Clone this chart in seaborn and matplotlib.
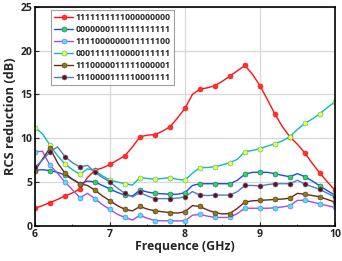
import numpy as np
import pandas as pd
import seaborn as sns
import matplotlib.pyplot as plt
from matplotlib.ticker import MultipleLocator

# frequency grid (GHz), markers on every second point
freq = np.round(np.arange(6.0, 10.01, 0.1), 1)

codes = ['1111111111000000000', '0000000111111111111', '1111000000011111100',
         '0001111110000111111', '1110000011111000001', '1110000111110001111']

s1 = [2.0, 2.3, 2.65, 3.0, 3.4, 3.75, 4.2, 5.5, 6.35, 6.6, 7.0, 7.5, 8.0, 9.0, 10.15, 10.35,
      10.4, 10.8, 11.3, 12.3, 13.4, 15.0, 15.6, 15.75, 16.0, 16.5, 17.1, 17.7, 18.3, 17.3,
      16.0, 14.4, 12.75, 11.3, 10.15, 9.3, 8.3, 7.1, 6.0, 5.0, 4.07]
s2 = [6.35, 6.4, 6.3, 6.1, 5.8, 5.3, 4.8, 5.1, 5.0, 4.6, 4.2, 3.8, 3.5, 3.4, 4.07, 3.85,
      3.7, 3.65, 3.6, 3.6, 3.77, 4.6, 4.8, 4.8, 4.8, 4.8, 4.8, 5.2, 5.9, 6.1,
      6.1, 6.1, 5.95, 5.75, 5.6, 5.95, 5.6, 5.1, 4.55, 4.0, 3.5]
s3 = [8.45, 8.5, 6.9, 6.0, 5.0, 4.1, 3.2, 3.7, 3.1, 2.4, 1.86, 1.3, 0.95, 0.65, 1.2, 0.85,
      0.6, 0.57, 0.57, 0.55, 0.57, 1.2, 1.3, 1.1, 0.95, 0.95, 0.95, 1.4, 2.0, 2.0,
      2.0, 2.0, 2.05, 2.15, 2.3, 2.9, 2.9, 2.7, 2.5, 2.3, 2.1]
s4 = [11.2, 10.5, 9.2, 8.0, 7.04, 6.4, 5.86, 6.5, 6.3, 5.7, 5.2, 5.0, 4.8, 4.65, 5.5, 5.4,
      5.3, 5.4, 5.5, 5.3, 5.2, 6.0, 6.65, 6.65, 6.75, 6.95, 7.2, 7.6, 8.45, 8.6,
      8.8, 9.1, 9.36, 9.7, 10.15, 11.0, 11.7, 12.2, 12.8, 13.5, 14.15]
s5 = [6.3, 7.6, 8.9, 7.2, 6.0, 5.3, 4.8, 4.6, 4.07, 3.4, 2.85, 2.3, 1.86, 1.7, 2.2, 1.9,
      1.7, 1.6, 1.5, 1.45, 1.6, 2.3, 2.2, 1.8, 1.5, 1.35, 1.4, 2.0, 2.7, 2.85,
      2.9, 2.95, 3.0, 3.05, 3.15, 3.7, 3.6, 3.45, 3.3, 3.0, 2.7]
s6 = [6.7, 7.5, 8.45, 9.0, 7.9, 7.2, 6.7, 6.9, 6.1, 5.5, 5.0, 4.3, 3.7, 3.3, 3.8, 3.4,
      3.1, 3.1, 3.1, 3.15, 3.3, 3.9, 3.5, 3.45, 3.5, 3.5, 3.5, 3.9, 4.6, 4.6,
      4.55, 4.7, 4.8, 4.8, 4.8, 5.2, 4.75, 4.45, 4.15, 3.7, 3.3]

line_colors = ['#ff1010', '#1a4fe0', '#a050e0', '#10baba', '#6b2a1a', '#4a80c8']
marker_colors = ['#ff3030', '#30e030', '#30f0ff', '#ffff20', '#858010', '#7a0a0a']

df = pd.DataFrame({'freq': freq})
for c, s in zip(codes, [s1, s2, s3, s4, s5, s6]):
    df[c] = s

sns.set_style('white')
plt.rcParams['font.family'] = ['Open Sans', 'DejaVu Sans']
plt.rcParams['font.weight'] = 'bold'

fig = plt.figure(figsize=(3.42, 2.61), dpi=100)
ax = fig.add_axes([0.1023, 0.135, 0.877, 0.839])

for c, lc in zip(codes, line_colors):
    sns.lineplot(data=df, x='freq', y=c, ax=ax, color=lc, lw=1.0, label=c,
                 marker='o', markevery=2, markersize=3.6)

# recolour marker faces (seaborn ties them to the line colour)
face = dict(zip(codes, marker_colors))
edge = dict(zip(codes, line_colors))
for ln in ax.lines:
    lab = ln.get_label()
    if lab in face:
        ln.set_markerfacecolor(face[lab])
        ln.set_markeredgecolor(edge[lab])
        ln.set_markeredgewidth(0.4)

ax.set_xlim(6, 10)
ax.set_ylim(0, 25)
ax.xaxis.set_major_locator(MultipleLocator(1))
ax.xaxis.set_minor_locator(MultipleLocator(0.5))
ax.yaxis.set_major_locator(MultipleLocator(5))
ax.grid(True, which='major', color='#d8d8d8', lw=0.9)
ax.tick_params(which='major', direction='in', length=3, width=0.8, labelsize=7.5, pad=2,
               bottom=True, left=True)
ax.tick_params(which='minor', direction='in', length=1.5, width=0.6, bottom=True)
for lab in ax.get_xticklabels() + ax.get_yticklabels():
    lab.set_fontweight('bold')
for sp in ax.spines.values():
    sp.set_color('black')
    sp.set_linewidth(1.2)

ax.set_xlabel('Frequence (GHz)', fontsize=8.8, fontweight='bold', labelpad=0)
ax.set_ylabel('RCS reduction (dB)', fontsize=9.2, fontweight='bold', labelpad=2)

leg = ax.legend(loc='upper left', bbox_to_anchor=(0.055, 0.985), fontsize=6.3,
                frameon=True, fancybox=False, edgecolor='#888888', handlelength=2.2,
                handletextpad=0.3, borderpad=0.3, labelspacing=0.36, borderaxespad=0)
leg.get_frame().set_linewidth(0.8)
for t in leg.get_texts():
    t.set_fontweight('bold')
for h, lc, mc in zip(leg.legend_handles, line_colors, marker_colors):
    h.set_markerfacecolor(mc)
    h.set_markeredgecolor(lc)

fig.savefig('out.png', dpi=100)
